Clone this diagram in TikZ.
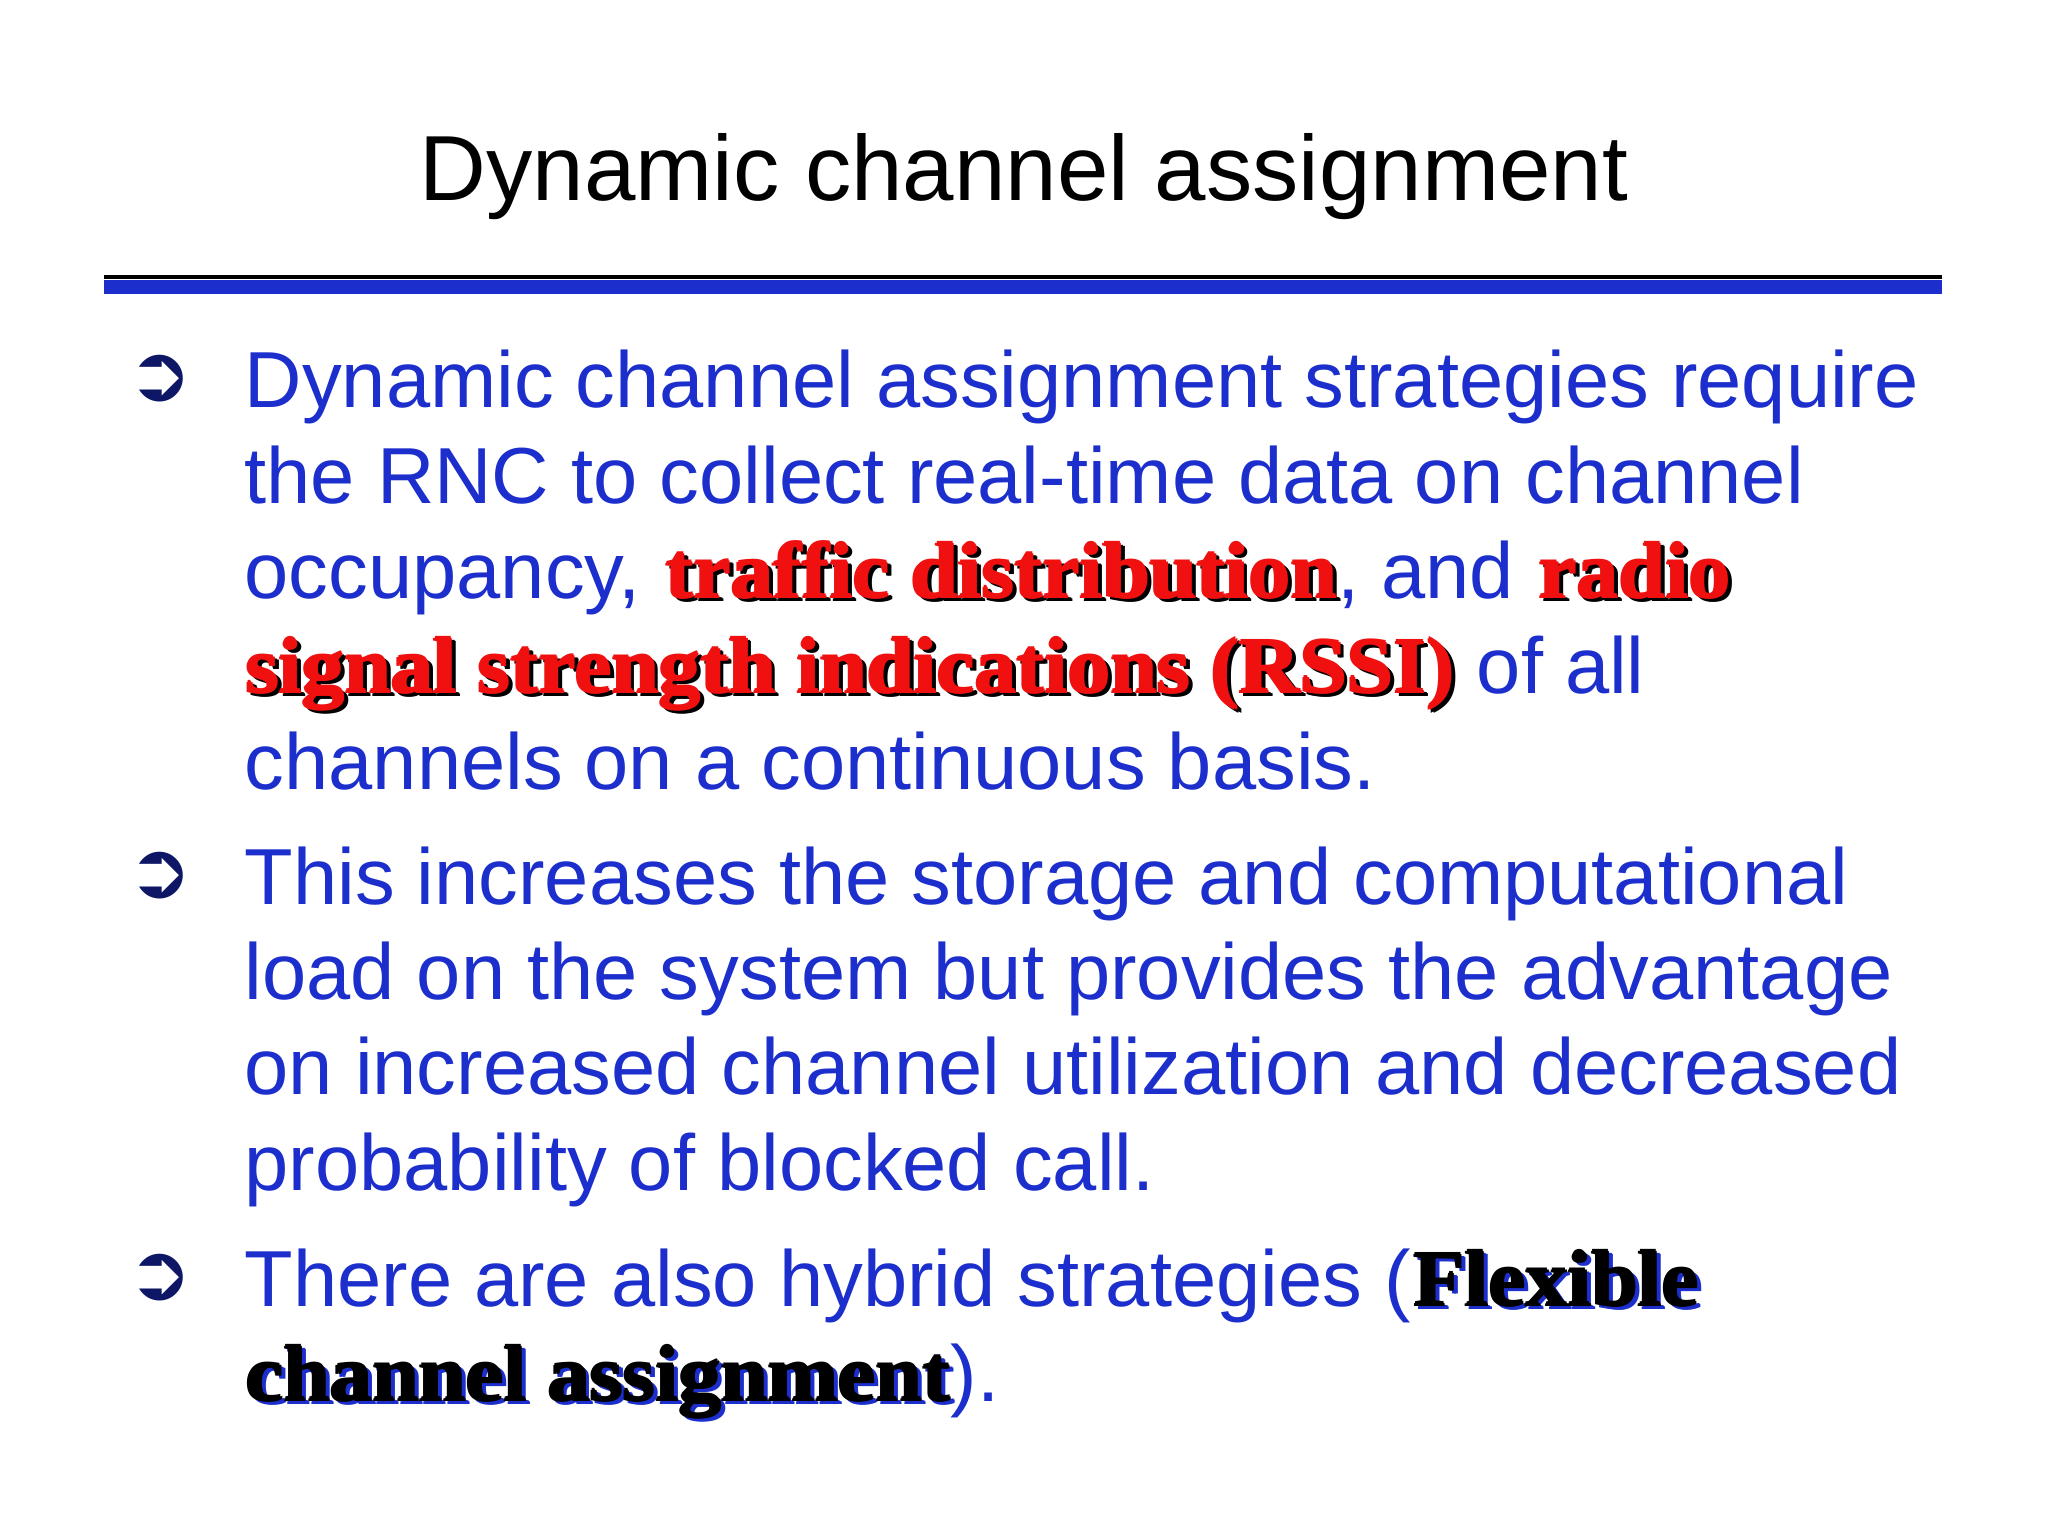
\documentclass[tikz,border=0pt]{standalone}
\usepackage{fontspec}
\setmainfont{Liberation Sans}
\newfontfamily\fancy[FakeStretch=1.06]{Liberation Serif}
\newfontfamily\dvs{DejaVu Sans}
\definecolor{bodyblue}{HTML}{1C2FCC}
\definecolor{hired}{HTML}{F01010}
\tikzset{
 ln/.style={anchor=base west, inner sep=0pt, text=bodyblue, font=\fontsize{22.6pt}{26pt}\selectfont},
 em/.style={anchor=base west, inner sep=0pt, font=\fancy\bfseries\fontsize{22.6pt}{26pt}\selectfont},
 bul/.style={anchor=base, inner sep=0pt, text=bodyblue!50!black, font=\dvs\bfseries\fontsize{22pt}{26pt}\selectfont}
}
% #1 name, #2 anchor coordinate, #3 front colour, #4 shadow colour, #5 text
\newcommand\emnode[5]{%
 \foreach \dx/\dy in {0/0,0.7/0,0.35/0.3}{%
   \node[em,text=#4] at ([xshift=1.1pt+\dx pt,yshift=-1.1pt+\dy pt]#2) {#5};}%
 \foreach \dx/\dy in {0.7/0,0.35/0.3}{%
   \node[em,text=#3] at ([xshift=\dx pt,yshift=\dy pt]#2) {#5};}%
 \node[em,text=#3] (#1) at (#2) {#5\hspace{0.7pt}};}
\begin{document}
\begin{tikzpicture}[x=0.01cm,y=-0.01cm]
\useasboundingbox (0,0) rectangle (2048,1536);
\node[anchor=base,inner sep=0pt,font=\fontsize{26.3pt}{32pt}\selectfont] (title) at (1024,200) {Dynamic channel assignment};
\draw[line width=1pt] (104,277) -- (1942,277);
\draw[bodyblue,line width=4pt] (104,287) -- (1942,287);
\node[bul] (b1) at (160,400) {➲};
\node[bul] (b2) at (160,897) {➲};
\node[bul] (b3) at (160,1299) {➲};
\node[ln] (l1) at (244,407) {Dynamic channel assignment strategies require};
\node[ln] (l2) at (244,503) {the RNC to collect real-time data on channel};
\node[ln] (l3) at (244,598) {occupancy,};
\coordinate (c3a) at ([xshift=6.3pt]l3.base east);
\emnode{e1}{c3a}{hired}{black}{traffic distribution}
\node[ln] (l3b) at (e1.base east) {, and};
\coordinate (c3b) at ([xshift=6.3pt]l3b.base east);
\emnode{e2}{c3b}{hired}{black}{radio}
\coordinate (c4) at (244,693);
\emnode{e3}{c4}{hired}{black}{signal strength indications (RSSI)}
\node[ln] (l4b) at ([xshift=6.3pt]e3.base east) {of all};
\node[ln] (l5) at (244,789) {channels on a continuous basis.};
\node[ln] (l6) at (244,904) {This increases the storage and computational};
\node[ln] (l7) at (244,999) {load on the system but provides the advantage};
\node[ln] (l8) at (244,1094) {on increased channel utilization and decreased};
\node[ln] (l9) at (244,1190) {probability of blocked call.};
\node[ln] (l10) at (244,1306) {There are also hybrid strategies (};
\emnode{e4}{l10.base east}{black}{bodyblue}{Flexible}
\coordinate (c11) at (244,1401);
\emnode{e5}{c11}{black}{bodyblue}{channel assignment}
\node[ln] (l11b) at (e5.base east) {).};
\end{tikzpicture}
\end{document}
